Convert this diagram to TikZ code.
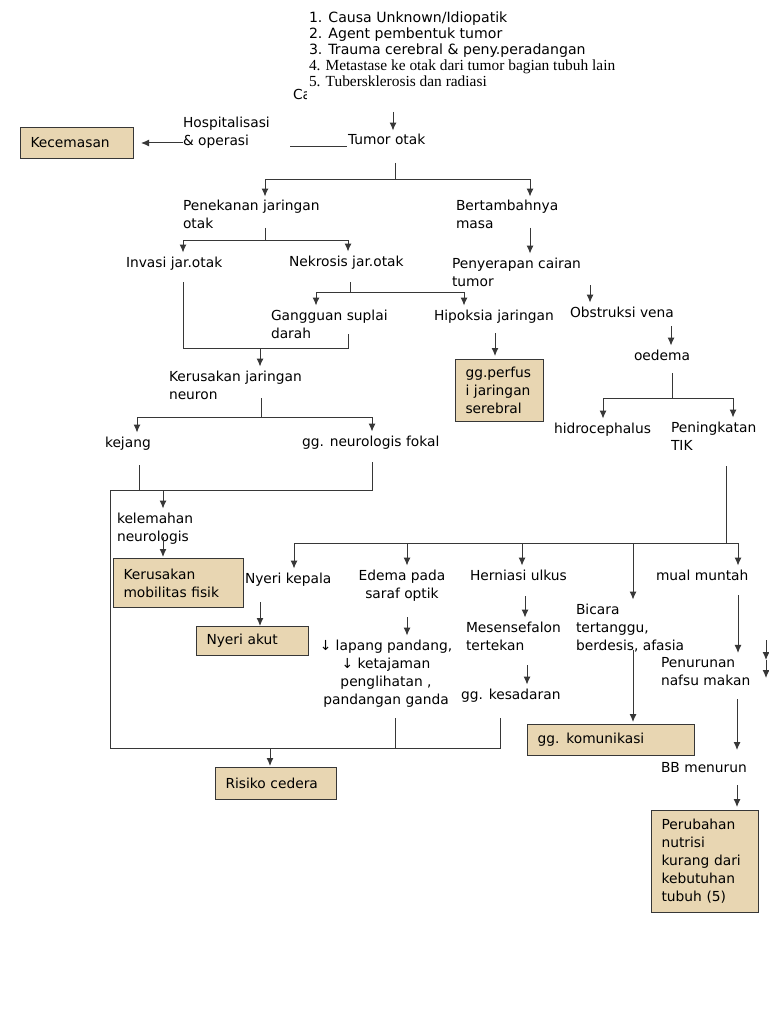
\documentclass[tikz,border=0pt]{standalone}
\usepackage{fontspec}
\setmainfont{DejaVu Sans}
\newfontfamily\listserif{Liberation Serif}
\usetikzlibrary{arrows.meta,positioning}
\definecolor{boxtan}{RGB}{232,214,178}
\definecolor{linegray}{RGB}{55,55,55}
\tikzset{
  lbl/.style={anchor=base west, inner sep=0pt, outer xsep=0pt, outer ysep=4pt, align=left, font=\fontsize{13.8}{18}\selectfont},
  clbl/.style={lbl, anchor=base, align=center},
  diag/.style={anchor=north west, draw=linegray, line width=1pt, fill=boxtan, inner xsep=10pt, inner ysep=0pt, align=left, font=\fontsize{13.8}{18}\selectfont},
  ln/.style={draw=linegray, line width=1pt},
  arr/.style={ln, -{Latex[length=8pt,width=7pt]}},
}
\begin{document}
\begin{tikzpicture}[x=1pt,y=-1pt]
\useasboundingbox[fill=white] (0,0) rectangle (768,1024);

% causes (multi-line nodes sit on their last baseline)
\node[lbl] (ca) at (293,100) {Ca};
\node[lbl, fill=white, inner xsep=2pt, minimum height=104pt, font=\fontsize{14.1}{16.2}\selectfont] (causes) at (307,87)
  {1. Causa Unknown/Idiopatik\\2. Agent pembentuk tumor\\3. Trauma cerebral \& peny.peradangan\\{\listserif\fontsize{15.4}{16.2}\selectfont 4. Metastase ke otak dari tumor bagian tubuh lain}\\{\listserif\fontsize{15.4}{16.2}\selectfont 5. Tubersklerosis dan radiasi}};

% labels
\node[lbl] (tumor) at (348,145) {Tumor otak};
\node[lbl] (hosp) at (183,146) {Hospitalisasi\\\& operasi};
\node[lbl] (pen) at (183,229) {Penekanan jaringan\\otak};
\node[lbl] (bert) at (456,229) {Bertambahnya\\masa};
\node[lbl] (inv) at (126,267) {Invasi jar.otak};
\node[lbl] (nek) at (289,266) {Nekrosis jar.otak};
\node[lbl] (peny) at (452,286) {Penyerapan cairan\\tumor};
\node[lbl] (gang) at (271,338) {Gangguan suplai\\darah};
\node[lbl] (hip) at (434,320) {Hipoksia jaringan};
\node[lbl] (obs) at (570,317) {Obstruksi vena};
\node[lbl] (kerus) at (169,399) {Kerusakan jaringan\\neuron};
\node[lbl] (oed) at (634,360) {oedema};
\node[lbl] (hidro) at (554,433) {hidrocephalus};
\node[lbl] (ptik) at (671,450) {Peningkatan\\TIK};
\node[lbl] (kej) at (105,447) {kejang};
\node[lbl] (neuro) at (302,446) {gg. neurologis fokal};
\node[lbl] (lemah) at (117,541) {kelemahan\\neurologis};
\node[lbl] (nyeri) at (245,583) {Nyeri kepala};
\node[clbl] (edema) at (402,598) {Edema pada\\saraf optik};
\node[lbl] (hern) at (470,580) {Herniasi ulkus};
\node[lbl] (mual) at (656,580) {mual muntah};
\node[lbl] (bic) at (576,650) {Bicara\\tertanggu,\\berdesis, afasia};
\node[clbl] (lapang) at (386,704) {↓ lapang pandang,\\↓ ketajaman\\penglihatan ,\\pandangan ganda};
\node[lbl] (mes) at (466,650) {Mesensefalon\\tertekan};
\node[lbl] (kes) at (461,699) {gg. kesadaran};
\node[lbl] (pen2) at (661,685) {Penurunan\\nafsu makan};
\node[lbl] (bb) at (661,772) {BB menurun};

% diagnosa boxes
\node[diag, text width=93pt, minimum height=31pt] (kecemasan) at (20,127) {Kecemasan};
\node[diag, text width=68pt, minimum height=62pt] (perfusi) at (455,359) {gg.perfus\\i jaringan\\serebral};
\node[diag, text width=110pt, minimum height=49pt] (mobilitas) at (113,558) {Kerusakan\\mobilitas fisik};
\node[diag, text width=92pt, minimum height=29pt] (akut) at (196,626) {Nyeri akut};
\node[diag, text width=101pt, minimum height=32pt] (risiko) at (215,767) {Risiko cedera};
\node[diag, text width=147pt, minimum height=31pt] (komunikasi) at (527,724) {gg. komunikasi};
\node[diag, text width=87pt, minimum height=102pt] (nutrisi) at (651,810) {Perubahan\\nutrisi\\kurang dari\\kebutuhan\\tubuh (5)};

% connectors top
\draw[arr] (393,112) -- (393,0 |- tumor.north);
\draw[ln] (290,147) -- (347,147);
\draw[arr] (kecemasan.east -| hosp.west) -- ([xshift=7pt]kecemasan.east);
\coordinate (tumorbus) at (395,180);
\draw[ln] (395,163) -- (tumorbus);
\draw[arr] (tumorbus) -| (265,0 |- pen.north);
\draw[arr] (tumorbus) -| (530,0 |- bert.north);
\coordinate (penbus) at (265,240);
\draw[ln] (265,228) -- (penbus);
\draw[arr] (penbus) -| (183,0 |- inv.north);
\draw[arr] (penbus) -| (348,0 |- nek.north);
\draw[arr] (530,228) -- (530,0 |- peny.north);
\coordinate (nekbus) at (350,292);
\draw[ln] (350,282) -- (nekbus);
\draw[arr] (nekbus) -| (316,0 |- gang.north);
\draw[arr] (nekbus) -| (464,0 |- hip.north);
\draw[arr] (590,285) -- (590,0 |- obs.north);

% connectors middle
\draw[ln] (183,282) |- (348,348) -- (348,334);
\draw[arr] (260,348) -- (260,0 |- kerus.north);
\draw[arr, shorten >=3pt] (495,333) -- (495,0 |- perfusi.north);
\draw[arr] (671,326) -- (671,0 |- oed.north);
\coordinate (oedbus) at (672,398);
\draw[ln] (672,373) -- (oedbus);
\draw[arr] (oedbus) -| (603,0 |- hidro.north);
\draw[arr] (oedbus) -| (733,0 |- ptik.north);
\coordinate (kerbus) at (261,417);
\draw[ln] (261,398) -- (kerbus);
\draw[arr] (kerbus) -| (137,0 |- kej.north);
\draw[arr] (kerbus) -| (372,0 |- neuro.north);

% left loop to risiko cedera
\draw[ln] (139,465) -- (139,490);
\draw[ln] (372,462) -- (372,490) -- (110,490) -- (110,748) -- (500,748) -- (500,718);
\draw[ln] (395,718) -- (395,748);
\draw[arr] (163,490) -- (163,0 |- lemah.north);
\draw[arr, shorten >=1pt] (163,537) -- (163,0 |- mobilitas.north);
\draw[arr, shorten >=1pt] (270,748) -- (270,0 |- risiko.north);

% TIK bus
\draw[ln] (726,466) -- (726,543);
\draw[ln] (294,543) -- (738,543);
\draw[arr] (294,543) -- (294,0 |- nyeri.north);
\draw[arr] (407,543) -- (407,0 |- edema.north);
\draw[arr] (522,543) -- (522,0 |- hern.north);
\draw[arr] (633,543) -- (633,0 |- bic.north);
\draw[arr] (738,543) -- (738,0 |- mual.north);

% lower chains
\draw[arr] (260,602) -- (260,0 |- akut.north);
\draw[arr] (407,617) -- (407,0 |- lapang.north);
\draw[arr] (525,596) -- (525,0 |- mes.north);
\draw[arr] (527,665) -- (527,0 |- kes.north);
\draw[arr, shorten >=2pt] (633,650) -- (633,0 |- komunikasi.north);
\draw[arr] (738,595) -- (738,0 |- pen2.north);
\draw[arr] (737,699) -- (737,750);
\draw[arr, shorten >=3pt] (737,785) -- (737,0 |- nutrisi.north);
\draw[arr] (766,640) -- (766,660);
\draw[arr] (766,660) -- (766,678);
\end{tikzpicture}
\end{document}
